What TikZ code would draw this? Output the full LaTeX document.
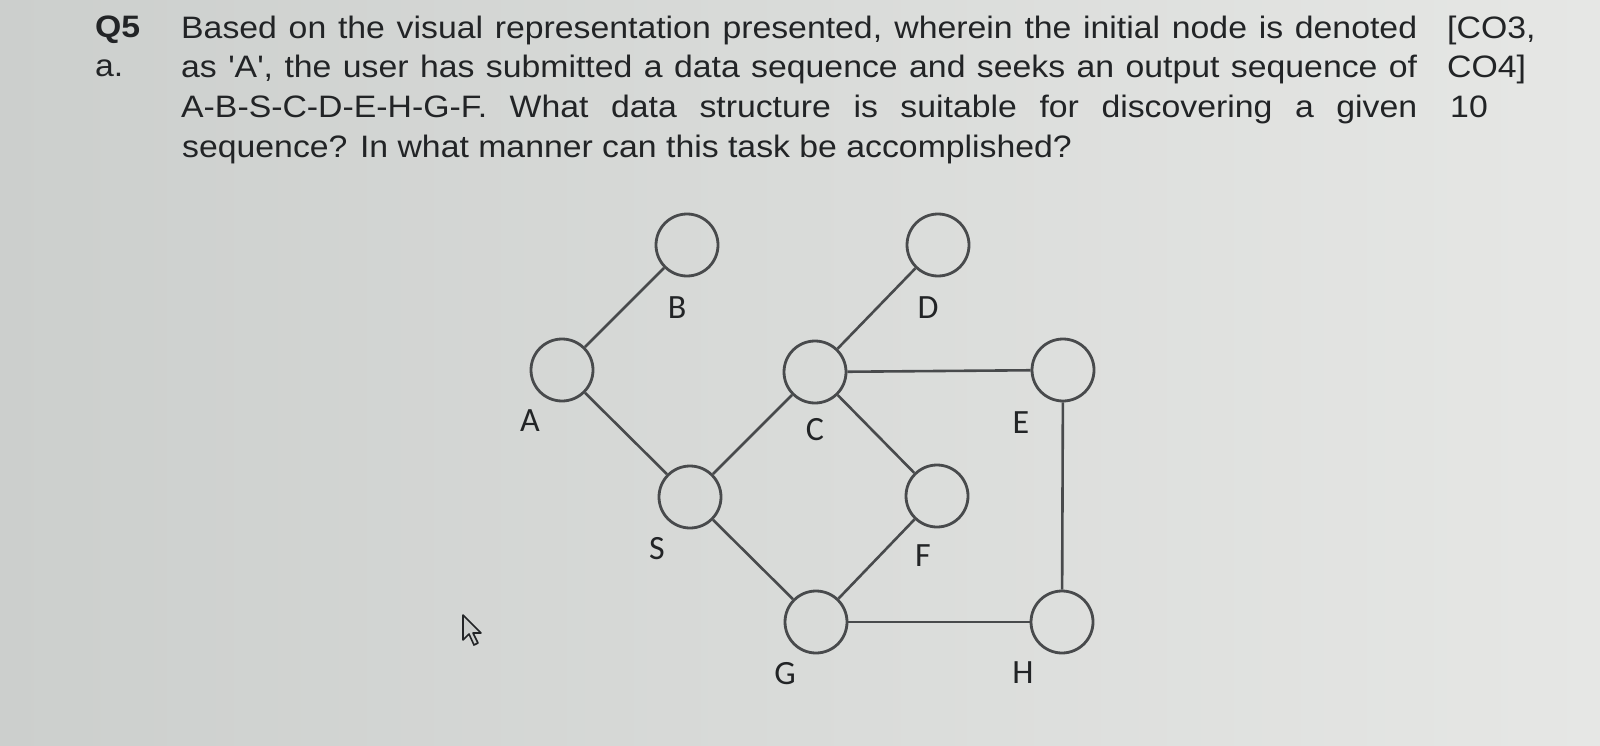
\documentclass[tikz,border=0pt]{standalone}
\usepackage{fontspec}
\setmainfont{Liberation Sans}[Ligatures=TeXOff]
\newfontfamily\lblfont{Carlito}
\definecolor{bgL}{RGB}{204,207,205}
\definecolor{bgR}{RGB}{230,231,229}
\definecolor{ink}{RGB}{34,36,38}
\definecolor{edge}{RGB}{72,74,76}
\newcommand{\wideline}[1]{\scalebox{1.09}[1]{#1}}
\newcommand{\justline}[1]{\scalebox{1.09}[1]{\makebox[1134pt][s]{#1}}}
\begin{document}
\begin{tikzpicture}[x=1pt,y=-1pt,
  vert/.style={circle,draw=edge,line width=2.8pt,minimum size=62pt,inner sep=0pt},
  conn/.style={draw=edge,line width=2.6pt},
  lbl/.style={font=\lblfont\fontsize{34}{38}\selectfont,text=ink,inner sep=0pt},
  qtext/.style={font=\fontsize{31}{36}\selectfont,text=ink,anchor=base west,inner sep=0pt},
  qbold/.style={qtext,font=\bfseries\fontsize{31}{36}\selectfont}]
\shade[left color=bgL,right color=bgR] (0,0) rectangle (1600,746);
\useasboundingbox (0,0) rectangle (1600,746);
% question text
\node[qbold] (q5) at (95,38) {\wideline{Q5}};
\node[qtext] (qa) at (95,77) {\wideline{a.}};
\node[qtext] (l1) at (181,39) {\justline{Based on the visual representation presented, wherein the initial node is denoted}};
\node[qtext] (l2) at (181,78) {\justline{as 'A', the user has submitted a data sequence and seeks an output sequence of}};
\node[qtext] (l3) at (181,118) {\justline{A-B-S-C-D-E-H-G-F. What data structure is suitable for discovering a given}};
\node[qtext] (l4) at (182,158) {\wideline{sequence? In what manner can this task be accomplished?}};
\node[qtext] (r1) at (1447,39) {\wideline{[CO3,}};
\node[qtext] (r2) at (1447,78) {\wideline{CO4]}};
\node[qtext] (r3) at (1450,118) {\wideline{10}};
% vertices
\node[vert] (B) at (687,245) {};
\node[vert] (D) at (938,245) {};
\node[vert] (A) at (562,370) {};
\node[vert] (C) at (815,372) {};
\node[vert] (E) at (1063,370) {};
\node[vert] (S) at (690,497) {};
\node[vert] (F) at (937,496) {};
\node[vert] (G) at (816,622) {};
\node[vert] (H) at (1062,622) {};
% edges
\draw[conn] (A) -- (B);
\draw[conn] (A) -- (S);
\draw[conn] (S) -- (C);
\draw[conn] (C) -- (D);
\draw[conn] (C) -- (E);
\draw[conn] (C) -- (F);
\draw[conn] (S) -- (G);
\draw[conn] (F) -- (G);
\draw[conn] (G) -- (H);
\draw[conn] (E) -- (H);
% labels
\node[lbl] (lB) at (677,308) {B};
\node[lbl] (lD) at (928,308) {D};
\node[lbl] (lA) at (530,421) {A};
\node[lbl] (lC) at (815,430) {C};
\node[lbl] (lE) at (1021,423) {E};
\node[lbl] (lS) at (657,549) {S};
\node[lbl] (lF) at (923,556) {F};
\node[lbl] (lG) at (785,674) {G};
\node[lbl] (lH) at (1023,673) {H};
% mouse cursor
\draw[ink,line width=1.6pt,fill=bgL,line join=round]
  (463,615) -- (463,640) -- (469,634) -- (474,645) -- (478,643) -- (473,633) -- (481,633) -- cycle;
\end{tikzpicture}
\end{document}
